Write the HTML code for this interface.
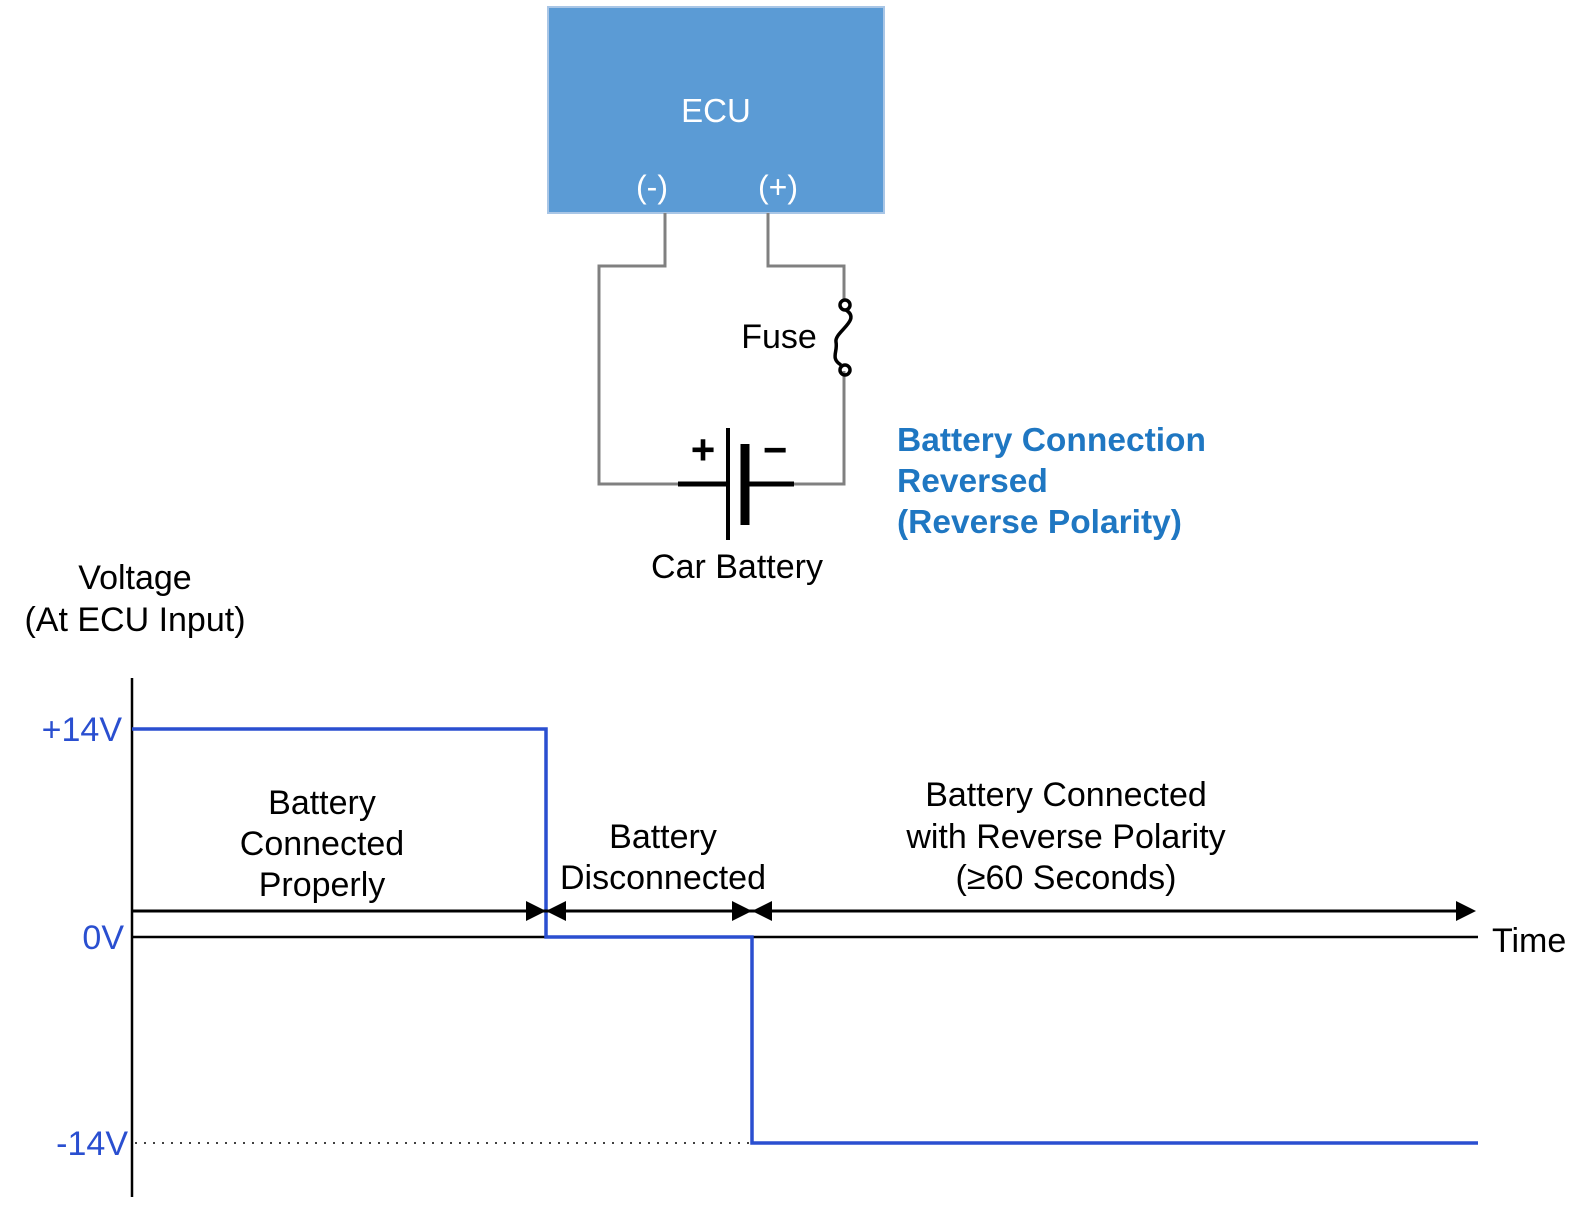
<!DOCTYPE html>
<html><head><meta charset="utf-8"><style>
html,body{margin:0;padding:0;background:#fff;}
svg text{font-family:"Liberation Sans",Arial,sans-serif;}
</style></head><body>
<svg width="1589" height="1200" viewBox="0 0 1589 1200" xmlns="http://www.w3.org/2000/svg">
<rect x="548" y="7" width="336" height="206" fill="#5b9bd5" stroke="#a9c6e6" stroke-width="2"/>
<text x="716" y="122" font-size="33" fill="#fff" text-anchor="middle">ECU</text>
<text x="652" y="198" font-size="32" fill="#fff" text-anchor="middle">(-)</text>
<text x="778" y="198" font-size="32" fill="#fff" text-anchor="middle">(+)</text>
<g fill="none" stroke="#808080" stroke-width="3">
<polyline points="665,213 665,266 599,266 599,484 680,484"/>
<polyline points="768,213 768,266 844,266 844,300"/>
<polyline points="844,371 844,484 793,484"/>
</g>
<g fill="none" stroke="#000" stroke-width="3.5">
<circle cx="845" cy="305" r="5"/><circle cx="845" cy="370" r="5"/>
<path d="M846,310 C862,320 834,332 836,342 C838,352 830,358 841,365"/>
</g>
<line x1="678" y1="484" x2="728" y2="484" stroke="#000" stroke-width="5"/>
<line x1="745" y1="484" x2="794" y2="484" stroke="#000" stroke-width="5"/>
<line x1="728" y1="428" x2="728" y2="540" stroke="#000" stroke-width="4"/>
<line x1="745" y1="444" x2="745" y2="525" stroke="#000" stroke-width="9"/>
<text x="703" y="464" font-size="42" font-weight="bold" text-anchor="middle">+</text>
<text x="775" y="464" font-size="42" font-weight="bold" text-anchor="middle">−</text>
<text x="779" y="348" font-size="34" text-anchor="middle">Fuse</text>
<text x="737" y="578" font-size="34" text-anchor="middle">Car Battery</text>
<g font-size="33.5" font-weight="bold" fill="#1f77c2">
<text x="897" y="451">Battery Connection</text>
<text x="897" y="492">Reversed</text>
<text x="897" y="533">(Reverse Polarity)</text>
</g>
<text x="135" y="589" font-size="34" text-anchor="middle">Voltage</text>
<text x="135" y="631" font-size="34" text-anchor="middle">(At ECU Input)</text>
<line x1="132" y1="678" x2="132" y2="1197" stroke="#000" stroke-width="2.5"/>
<line x1="132" y1="937" x2="1478" y2="937" stroke="#000" stroke-width="2.5"/>
<line x1="135" y1="1143" x2="752" y2="1143" stroke="#000" stroke-width="1.5" stroke-dasharray="2,7"/>
<polyline points="132,729 546,729 546,937 752,937 752,1143 1478,1143" fill="none" stroke="#2a4fd0" stroke-width="3.5"/>
<g font-size="34" fill="#2a4fd0" text-anchor="end">
<text x="122" y="741">+14V</text>
<text x="124" y="949">0V</text>
<text x="128" y="1155">-14V</text>
</g>
<line x1="132" y1="911" x2="1460" y2="911" stroke="#000" stroke-width="3"/>
<g fill="#000">
<polygon points="546,911 526,901 526,921"/>
<polygon points="546,911 566,901 566,921"/>
<polygon points="752,911 732,901 732,921"/>
<polygon points="752,911 772,901 772,921"/>
<polygon points="1476,911 1456,901 1456,921"/>
</g>
<text x="1492" y="952" font-size="34">Time</text>
<g font-size="34" text-anchor="middle">
<text x="322" y="814">Battery</text>
<text x="322" y="855">Connected</text>
<text x="322" y="896">Properly</text>
<text x="663" y="848">Battery</text>
<text x="663" y="889">Disconnected</text>
<text x="1066" y="806">Battery Connected</text>
<text x="1066" y="848">with Reverse Polarity</text>
<text x="1066" y="889">(≥60 Seconds)</text>
</g>
</svg>
</body></html>
